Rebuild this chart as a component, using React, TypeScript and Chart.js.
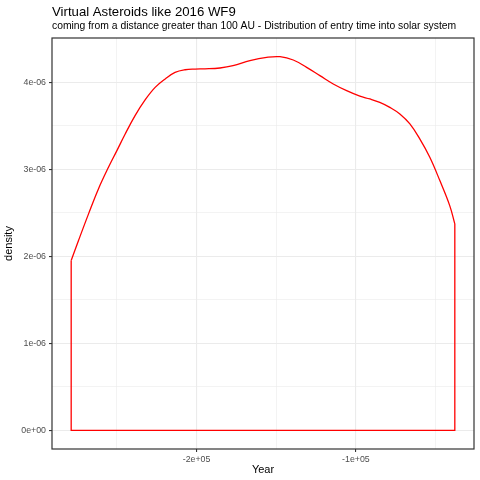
import React, { useEffect, useRef } from "react";
import { Chart, registerables } from "chart.js";

Chart.register(...registerables);

const titleText = "Virtual Asteroids like 2016 WF9";
const subtitleText =
  "coming from a distance greater than 100 AU - Distribution of entry time into solar system";
const xTitle = "Year";
const yTitle = "density";

// Year values along the density curve
const years = [
  -278700, -274100, -267800, -261600, -255300, -250000, -244800, -238600,
  -232300, -226000, -219700, -213500, -207200, -200900, -194700, -185300,
  -177100, -166500, -156000, -147600, -139300, -130900, -122600, -114200,
  -105800, -97500, -91200, -85000, -78700, -72400, -66100, -59900, -53600,
  -47300, -41100, -37900,
];
// Density values (in units of 1e-6)
const density = [
  1.951, 2.181, 2.487, 2.774, 3.022, 3.214, 3.405, 3.616, 3.796, 3.94, 4.037,
  4.112, 4.143, 4.151, 4.153, 4.163, 4.189, 4.247, 4.285, 4.293, 4.255, 4.17,
  4.075, 3.979, 3.902, 3.839, 3.807, 3.768, 3.711, 3.635, 3.52, 3.348, 3.137,
  2.869, 2.582, 2.372,
];

const xMajorTicks = [-200000, -100000];
const xMajorLabels = ["-2e+05", "-1e+05"];
const xMinorTicks = [-250000, -150000, -50000];
const yMajorTicks = [0, 1e-6, 2e-6, 3e-6, 4e-6];
const yMajorLabels = ["0e+00", "1e-06", "2e-06", "3e-06", "4e-06"];
const yMinorTicks = [0.5e-6, 1.5e-6, 2.5e-6, 3.5e-6];

const FONT = '"Liberation Sans", Arial, Helvetica, sans-serif';

function majorIndex(list: number[], v: number, tol: number) {
  return list.findIndex((t) => Math.abs(t - v) < tol);
}

export default function App() {
  const ref = useRef<HTMLCanvasElement | null>(null);

  useEffect(() => {
    document.body.style.margin = "0";
    const canvas = ref.current;
    if (!canvas) return;

    const yVals = density.map((d) => d * 1e-6);
    const x0 = Math.min(...years);
    const x1 = Math.max(...years);
    const xr = x1 - x0;
    const yMax = Math.max(...yVals);
    const xMin = x0 - xr * 0.05;
    const xMax = x1 + xr * 0.05;
    const yMin = 0 - yMax * 0.05;
    const yTop = yMax + yMax * 0.05;

    const curve = years.map((x, i) => ({ x, y: yVals[i] }));
    const outline = [
      { x: years[0], y: yVals[0] },
      { x: years[0], y: 0 },
      { x: years[years.length - 1], y: 0 },
      { x: years[years.length - 1], y: yVals[yVals.length - 1] },
    ];

    const ggPlugin = {
      id: "ggDecor",
      afterDatasetsDraw(chart: any) {
        const { ctx, chartArea } = chart;
        ctx.save();
        ctx.strokeStyle = "#333333";
        ctx.lineWidth = 1.2;
        ctx.strokeRect(
          chartArea.left,
          chartArea.top,
          chartArea.right - chartArea.left,
          chartArea.bottom - chartArea.top
        );
        ctx.restore();
      },
      afterDraw(chart: any) {
        const { ctx, chartArea } = chart;
        ctx.save();
        ctx.fillStyle = "#000000";
        ctx.textAlign = "left";
        ctx.textBaseline = "alphabetic";
        ctx.font = `13.2px ${FONT}`;
        ctx.fillText(titleText, chartArea.left, 15.5);
        ctx.font = `10.35px ${FONT}`;
        ctx.fillText(subtitleText, chartArea.left, 28.5);
        ctx.restore();
      },
    };

    const xAll = [...xMinorTicks, ...xMajorTicks].sort((a, b) => a - b);
    const yAll = [...yMinorTicks, ...yMajorTicks].sort((a, b) => a - b);
    const isXMajor = (v: number) => majorIndex(xMajorTicks, v, 1) >= 0;
    const isYMajor = (v: number) => majorIndex(yMajorTicks, v, 1e-12) >= 0;

    const chart = new Chart(canvas, {
      type: "line",
      data: {
        datasets: [
          {
            data: curve,
            borderColor: "#FF0000",
            borderWidth: 1.3,
            pointRadius: 0,
            fill: false,
            tension: 0.4,
          },
          {
            data: outline,
            borderColor: "#FF0000",
            borderWidth: 1.3,
            pointRadius: 0,
            fill: false,
            tension: 0,
          },
        ],
      },
      options: {
        animation: false,
        responsive: false,
        parsing: false as any,
        layout: { padding: { top: 38, right: 6, left: 0, bottom: 0 } },
        plugins: {
          legend: { display: false },
          tooltip: { enabled: false },
          title: { display: false },
        },
        scales: {
          x: {
            type: "linear",
            min: xMin,
            max: xMax,
            afterBuildTicks: (s: any) => {
              s.ticks = xAll.map((v) => ({ value: v }));
            },
            afterFit: (s: any) => {
              s.height = 31;
            },
            ticks: {
              autoSkip: false,
              maxRotation: 0,
              padding: 2,
              color: "#4D4D4D",
              font: { size: 8.8, family: FONT },
              callback: (v: any) => {
                const i = majorIndex(xMajorTicks, Number(v), 1);
                return i >= 0 ? xMajorLabels[i] : "";
              },
            },
            grid: {
              color: "#EBEBEB",
              lineWidth: (c: any) => (isXMajor(c.tick?.value) ? 1.1 : 0.6),
              drawTicks: true,
              tickLength: 3,
              tickWidth: 1.1,
              tickColor: (c: any) =>
                isXMajor(c.tick?.value) ? "#333333" : "rgba(0,0,0,0)",
            },
            border: { display: false },
            title: {
              display: true,
              text: xTitle,
              color: "#000000",
              font: { size: 11, family: FONT },
              padding: { top: 0, bottom: 3 },
            },
          },
          y: {
            type: "linear",
            min: yMin,
            max: yTop,
            afterBuildTicks: (s: any) => {
              s.ticks = yAll.map((v) => ({ value: v }));
            },
            afterFit: (s: any) => {
              s.width = 52;
            },
            ticks: {
              autoSkip: false,
              padding: 3,
              color: "#4D4D4D",
              font: { size: 8.8, family: FONT },
              callback: (v: any) => {
                const i = majorIndex(yMajorTicks, Number(v), 1e-12);
                return i >= 0 ? yMajorLabels[i] : "";
              },
            },
            grid: {
              color: "#EBEBEB",
              lineWidth: (c: any) => (isYMajor(c.tick?.value) ? 1.1 : 0.6),
              drawTicks: true,
              tickLength: 3,
              tickWidth: 1.1,
              tickColor: (c: any) =>
                isYMajor(c.tick?.value) ? "#333333" : "rgba(0,0,0,0)",
            },
            border: { display: false },
            title: {
              display: true,
              text: yTitle,
              color: "#000000",
              font: { size: 11, family: FONT },
              padding: { top: 2, bottom: 0 },
            },
          },
        },
      },
      plugins: [ggPlugin],
    });

    return () => chart.destroy();
  }, []);

  return (
    <div style={{ width: 480, height: 480 }}>
      <canvas ref={ref} width={480} height={480} style={{ display: "block" }} />
    </div>
  );
}
